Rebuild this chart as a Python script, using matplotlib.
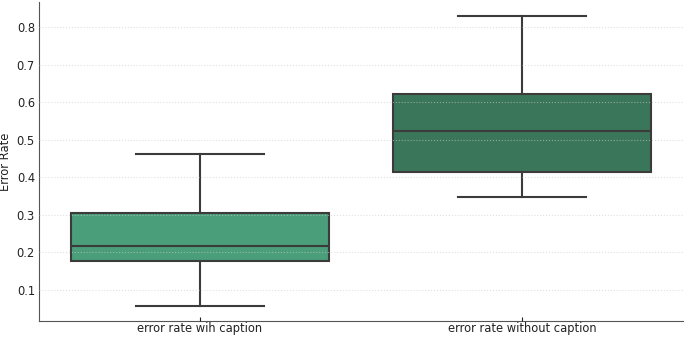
import matplotlib
matplotlib.use("Agg")
import matplotlib.pyplot as plt

# box statistics
labels = ["error rate wih caption", "error rate without caption"]
q1 = [0.177, 0.414]
med = [0.217, 0.524]
q3 = [0.306, 0.621]
whislo = [0.056, 0.348]
whishi = [0.461, 0.829]
colors = ["#4a9e7a", "#3a765a"]

stats = []
for i in range(len(labels)):
    stats.append({"label": labels[i], "q1": q1[i], "med": med[i], "q3": q3[i],
                  "whislo": whislo[i], "whishi": whishi[i], "fliers": []})

fig, ax = plt.subplots(figsize=(6.85, 3.38), dpi=100)
edge = "#3b3b3b"
bp = ax.bxp(stats, positions=[0, 1], widths=0.8, patch_artist=True,
            showfliers=False,
            boxprops=dict(edgecolor=edge, linewidth=1.5),
            medianprops=dict(color=edge, linewidth=1.5),
            whiskerprops=dict(color=edge, linewidth=1.5),
            capprops=dict(color=edge, linewidth=1.5),
            capwidths=0.4)
for patch, c in zip(bp["boxes"], colors):
    patch.set_facecolor(c)

ax.set_xlim(-0.5, 1.5)
ax.set_ylim(0.017, 0.867)
ax.set_yticks([0.1, 0.2, 0.3, 0.4, 0.5, 0.6, 0.7, 0.8])
ax.set_ylabel("Error Rate", fontsize=8.3, color="#222222", labelpad=3)
ax.tick_params(axis="x", labelsize=8.3, colors="#222222", pad=1,
               direction="in", length=3)
ax.tick_params(axis="y", labelsize=8.3, colors="#222222", pad=3, length=0)
ax.set_axisbelow(False)
ax.yaxis.grid(True, linestyle=":", color="#cccccc", linewidth=0.8, alpha=0.6)
for s in ["top", "right"]:
    ax.spines[s].set_visible(False)
for s in ["left", "bottom"]:
    ax.spines[s].set_color("#555555")

fig.subplots_adjust(left=0.057, right=0.997, top=0.994, bottom=0.05)
fig.savefig("out.png", dpi=100)
